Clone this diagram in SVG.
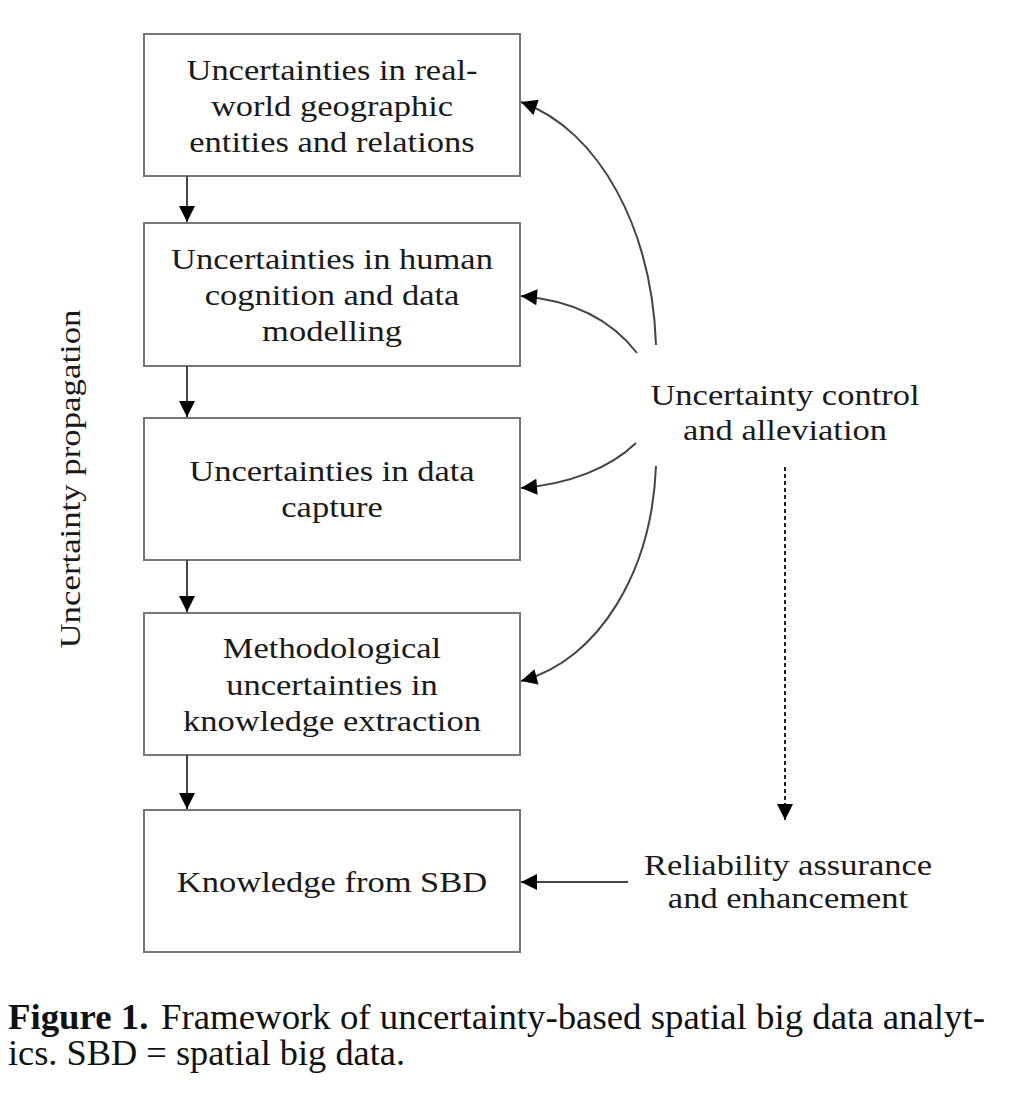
<svg xmlns="http://www.w3.org/2000/svg" width="1024" height="1100" viewBox="0 0 1024 1100">
<style>
.box{fill:#fff;stroke:#777;stroke-width:2}
.t{font-family:"Liberation Serif","Times New Roman",serif;font-size:30px;fill:#1a1a1a;text-anchor:middle}
.cap{font-family:"Liberation Serif","Times New Roman",serif;font-size:35px;fill:#111}
.ln{fill:none;stroke:#444;stroke-width:2}
</style>
<defs>
<marker id="ah" viewBox="0 0 10 10" refX="10" refY="5" markerWidth="18" markerHeight="16" markerUnits="userSpaceOnUse" orient="auto">
<path d="M0,0 L10,5 L0,10 z" fill="#000"/>
</marker>
</defs>
<rect width="1024" height="1100" fill="#fff"/>
<g id="n1"><rect class="box" x="144" y="34" width="376" height="142"/>
<g transform="translate(332,0) scale(1.15,1)">
<text class="t" x="0" y="80">Uncertainties in real-</text>
<text class="t" x="0" y="116">world geographic</text>
<text class="t" x="0" y="152">entities and relations</text></g></g>
<g id="n2"><rect class="box" x="144" y="223" width="376" height="143"/>
<g transform="translate(332,0) scale(1.15,1)">
<text class="t" x="0" y="269">Uncertainties in human</text>
<text class="t" x="0" y="305">cognition and data</text>
<text class="t" x="0" y="341">modelling</text></g></g>
<g id="n3"><rect class="box" x="144" y="418" width="376" height="142"/>
<g transform="translate(332,0) scale(1.15,1)">
<text class="t" x="0" y="481">Uncertainties in data</text>
<text class="t" x="0" y="517">capture</text></g></g>
<g id="n4"><rect class="box" x="144" y="613" width="376" height="142"/>
<g transform="translate(332,0) scale(1.15,1)">
<text class="t" x="0" y="658">Methodological</text>
<text class="t" x="0" y="695">uncertainties in</text>
<text class="t" x="0" y="731">knowledge extraction</text></g></g>
<g id="n5"><rect class="box" x="144" y="810" width="376" height="142"/>
<g transform="translate(332,0) scale(1.15,1)">
<text class="t" x="0" y="892">Knowledge from SBD</text></g></g>
<g id="uc"><g transform="translate(785,0) scale(1.15,1)">
<text class="t" x="0" y="405">Uncertainty control</text>
<text class="t" x="0" y="440">and alleviation</text></g></g>
<g id="ra"><g transform="translate(788,0) scale(1.15,1)">
<text class="t" x="0" y="875">Reliability assurance</text>
<text class="t" x="0" y="908">and enhancement</text></g></g>
<g id="up"><text class="t" transform="translate(80,479) rotate(-90) scale(1.16,1)">Uncertainty propagation</text></g>
<g id="connectors">
<line class="ln" x1="187" y1="176" x2="187" y2="222" marker-end="url(#ah)"/>
<line class="ln" x1="187" y1="366" x2="187" y2="417" marker-end="url(#ah)"/>
<line class="ln" x1="187" y1="560" x2="187" y2="612" marker-end="url(#ah)"/>
<line class="ln" x1="187" y1="755" x2="187" y2="809" marker-end="url(#ah)"/>
<path class="ln" d="M656,345 C652,230 600,130 521,102" marker-end="url(#ah)"/>
<path class="ln" d="M637,353 C610,318 570,300 521,296" marker-end="url(#ah)"/>
<path class="ln" d="M636,443 C610,468 570,484 521,488" marker-end="url(#ah)"/>
<path class="ln" d="M656,466 C652,570 600,660 521,681" marker-end="url(#ah)"/>
<line x1="785" y1="467" x2="785" y2="820" stroke="#222" stroke-width="2" stroke-dasharray="4,3" marker-end="url(#ah)"/>
<line class="ln" x1="628" y1="882" x2="521" y2="882" marker-end="url(#ah)"/>
</g>
<g id="caption">
<text class="cap" x="8" y="1029" textLength="977" lengthAdjust="spacingAndGlyphs"><tspan font-weight="bold">Figure 1.</tspan><tspan dx="12">Framework of uncertainty-based spatial big data analyt-</tspan></text>
<text class="cap" x="8" y="1065" textLength="397" lengthAdjust="spacingAndGlyphs">ics. SBD = spatial big data.</text>
</g>
</svg>
